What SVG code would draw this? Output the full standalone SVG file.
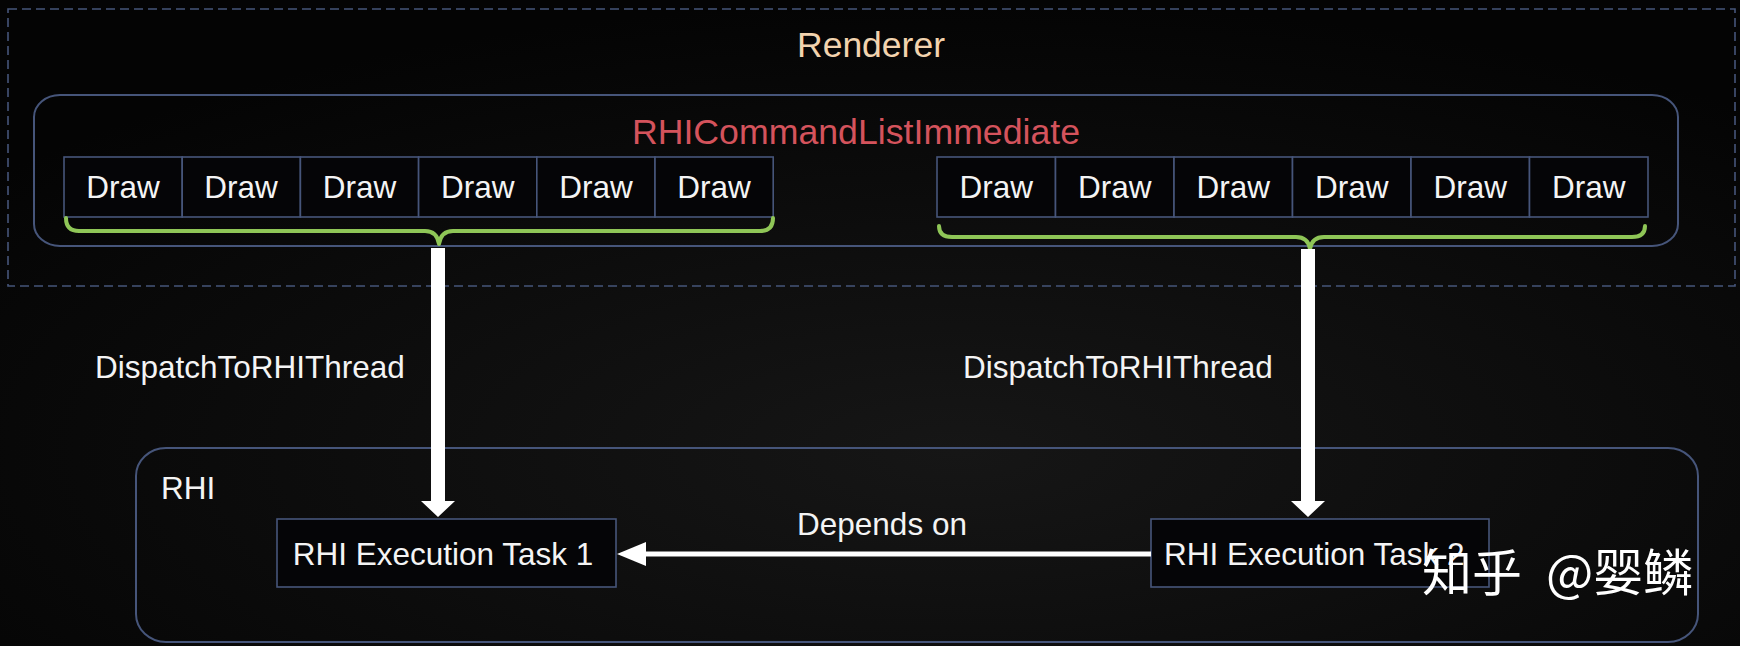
<svg xmlns="http://www.w3.org/2000/svg" width="1740" height="646" viewBox="0 0 1740 646">
  <defs>
    <radialGradient id="bg" cx="0.55" cy="0.7" r="0.7">
      <stop offset="0" stop-color="#161616"/>
      <stop offset="1" stop-color="#040404"/>
    </radialGradient>
    <style>
      text { font-family: "Liberation Sans", Arial, sans-serif; fill: #f4f4f4; }
      .box { fill: none; stroke: #46557a; stroke-width: 2; }
      .cell { fill: #050507; stroke: #46557a; stroke-width: 1.6; }
      .draw { font-size: 31.5px; text-anchor: middle; }
      .lbl { font-size: 31.5px; }
      .brace { fill: none; stroke: #8fc657; stroke-width: 4; stroke-linejoin: round; stroke-linecap: round; }
      .arrow { fill: #ffffff; }
      .wm { font-family: "Noto Sans CJK SC", sans-serif; font-size: 50px; fill: #ffffff; }
    </style>
  </defs>
  <rect x="0" y="0" width="1740" height="646" fill="url(#bg)"/>

  <g id="renderer">
    <rect x="8" y="9" width="1727" height="277" fill="none" stroke="#46557a" stroke-width="1.6" stroke-dasharray="9 5"/>
    <text x="871" y="57" font-size="35.5" text-anchor="middle" style="fill:#f2d3ae">Renderer</text>
  </g>

  <g id="cmdlist">
    <rect x="34" y="95" width="1644" height="151" rx="26" ry="22" class="box"/>
    <text x="856" y="144" font-size="35.7" text-anchor="middle" style="fill:#d4535c">RHICommandListImmediate</text>
  </g>

  <g id="draws-left">
    <rect class="cell" x="64" y="157" width="118.2" height="60"/>
    <rect class="cell" x="182.2" y="157" width="118.2" height="60"/>
    <rect class="cell" x="300.4" y="157" width="118.2" height="60"/>
    <rect class="cell" x="418.6" y="157" width="118.2" height="60"/>
    <rect class="cell" x="536.8" y="157" width="118.2" height="60"/>
    <rect class="cell" x="655" y="157" width="118.2" height="60"/>
    <text class="draw" x="123" y="198">Draw</text>
    <text class="draw" x="241" y="198">Draw</text>
    <text class="draw" x="359.5" y="198">Draw</text>
    <text class="draw" x="477.7" y="198">Draw</text>
    <text class="draw" x="595.9" y="198">Draw</text>
    <text class="draw" x="714" y="198">Draw</text>
  </g>

  <g id="draws-right">
    <rect class="cell" x="937" y="157" width="118.5" height="60"/>
    <rect class="cell" x="1055.5" y="157" width="118.5" height="60"/>
    <rect class="cell" x="1174" y="157" width="118.5" height="60"/>
    <rect class="cell" x="1292.5" y="157" width="118.5" height="60"/>
    <rect class="cell" x="1411" y="157" width="118.5" height="60"/>
    <rect class="cell" x="1529.5" y="157" width="118.5" height="60"/>
    <text class="draw" x="996.2" y="198">Draw</text>
    <text class="draw" x="1114.7" y="198">Draw</text>
    <text class="draw" x="1233.2" y="198">Draw</text>
    <text class="draw" x="1351.7" y="198">Draw</text>
    <text class="draw" x="1470.2" y="198">Draw</text>
    <text class="draw" x="1588.7" y="198">Draw</text>
  </g>

  <g id="rhi">
    <rect x="136" y="448" width="1562" height="194" rx="30" ry="28" class="box"/>
    <text class="lbl" x="161" y="499" font-size="32">RHI</text>
  </g>

  <g id="task1">
    <rect x="277" y="519" width="339" height="68" class="cell"/>
    <text class="lbl" x="443" y="565" text-anchor="middle">RHI Execution Task 1</text>
  </g>

  <g id="task2">
    <rect x="1151" y="519" width="338" height="68" class="cell"/>
    <text class="lbl" x="1164" y="565">RHI Execution Task 2</text>
  </g>

  <g id="connectors">
    <path class="brace" d="M66,218 Q66,231 79,231 L425,231 Q437,231 439,244 Q441,231 453,231 L760,231 Q773,231 773,218"/>
    <path class="brace" d="M939,226 Q939,237 952,237 L1296,237 Q1308,237 1310,249 Q1312,237 1324,237 L1632,237 Q1645,237 1645,226"/>
    <polygon class="arrow" points="431,248 445,248 445,501 455,501 438,517 421,501 431,501"/>
    <polygon class="arrow" points="1301,249 1315,249 1315,501 1325,501 1308,517 1291,501 1301,501"/>
    <line x1="1151" y1="554" x2="640" y2="554" stroke="#ffffff" stroke-width="5"/>
    <polygon class="arrow" points="617,554 646,542 646,566"/>
    <text class="lbl" x="95" y="378">DispatchToRHIThread</text>
    <text class="lbl" x="963" y="378">DispatchToRHIThread</text>
    <text class="lbl" x="882" y="535" text-anchor="middle">Depends on</text>
  </g>

  <g id="watermark">
    <text class="wm" x="1422" y="591">知乎</text>
    <text class="wm" x="1546" y="591">@婴鳞</text>
  </g>
</svg>
